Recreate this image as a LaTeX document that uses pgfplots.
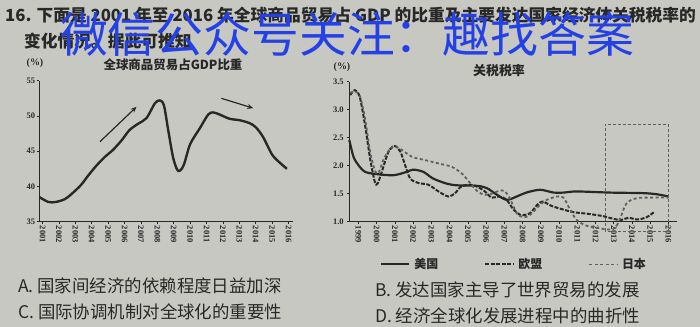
\documentclass[border=0pt]{standalone}
\usepackage{pgfplots}
\pgfplotsset{compat=1.18}
\usepackage{fontspec}
\setmainfont{Liberation Serif}
\newfontfamily\cjk{Noto Sans CJK SC}
\usetikzlibrary{arrows.meta}
\definecolor{bgc}{RGB}{200,200,195}
\definecolor{ink}{RGB}{40,40,40}
\definecolor{jp}{RGB}{95,95,95}
\definecolor{wm}{RGB}{35,65,230}
\begin{document}
\begin{tikzpicture}
\useasboundingbox (0,0) rectangle (700bp,-327bp);
\fill[bgc] (0,0) rectangle (700bp,-327bp);
% question text
\node[anchor=west, inner sep=0pt, text=ink, font={\cjk\bfseries\fontsize{16.8}{18}\selectfont}] at (5bp,-15bp) {16. 下面是 2001 年至 2016 年全球商品贸易占 GDP 的比重及主要发达国家经济体关税税率的};
\node[anchor=west, inner sep=0pt, text=ink, font={\cjk\bfseries\fontsize{16.8}{18}\selectfont}] at (24bp,-41bp) {变化情况。据此可推知};
% chart labels
\node[text=ink, font={\bfseries\fontsize{10}{12}\selectfont}] at (35bp,-63bp) {(\%)};
\node[text=ink, font={\cjk\bfseries\fontsize{12.5}{14}\selectfont}] at (173bp,-65bp) {全球商品贸易占GDP比重};
\node[text=ink, font={\bfseries\fontsize{10}{12}\selectfont}] at (342bp,-67bp) {(\%)};
\node[text=ink, font={\cjk\bfseries\fontsize{13}{14}\selectfont}] at (499bp,-71bp) {关税税率};

\begin{axis}[at={(39.3bp,-221.7bp)}, anchor=south west, scale only axis,
 width=253.7bp, height=141bp, xmin=2000.8, xmax=2016.27, ymin=35, ymax=55,
 axis lines=left, axis line style={-, draw=ink, line width=1.1pt},
 xtick={2001,2002,...,2016}, ytick={35,40,45,50,55},
 tick align=outside, major tick length=2.5bp, tick style={ink, line width=0.7pt},
 x tick label style={rotate=-90, anchor=west, /pgf/number format/1000 sep={}, inner sep=1.5bp},
 y tick label style={inner sep=1.5bp},
 tick label style={font=\fontsize{8.5}{9}\selectfont\bfseries, text=ink},
 /pgf/number format/assume math mode=true,
 clip=false]
\addplot[ink, line width=2.4pt, smooth, tension=0.5] coordinates {
(2000.8,38.5) (2001.35,37.8) (2001.8,37.8) (2002.36,38.2) (2002.8,39.0) (2003.34,40.2) (2003.8,41.6) (2004.3,43.0) (2004.8,44.2) (2005.3,45.2) (2005.84,46.6) (2006.3,48.0) (2006.83,48.9) (2007.34,49.7) (2007.85,51.8) (2008.15,52.2) (2008.4,51.5) (2008.66,48.0) (2008.97,44.0) (2009.27,42.2) (2009.6,43.0) (2010.0,46.0) (2010.6,48.3) (2011.1,50.2) (2011.4,50.5) (2011.8,50.2) (2012.4,49.6) (2013.0,49.4) (2013.6,49.0) (2014.0,48.4) (2014.45,47.0) (2015.0,44.5) (2015.5,43.3) (2015.9,42.5)};
\draw[ink, line width=1.2pt, -{Stealth[length=6bp,width=5bp]}] (axis cs:2004.5,46.35) -- (axis cs:2006.73,51.3);
\draw[ink, line width=1.2pt, -{Stealth[length=6bp,width=5bp]}] (axis cs:2011.9,52.5) -- (axis cs:2013.85,51.1);
\end{axis}

\begin{axis}[at={(349.3bp,-221.7bp)}, anchor=south west, scale only axis,
 width=327.4bp, height=140bp, xmin=1998.5, xmax=2016.45, ymin=1, ymax=3.5,
 axis lines=left, axis line style={-, draw=ink, line width=1.1pt},
 xtick={1999,2000,...,2016}, ytick={1,1.5,2,2.5,3,3.5},
 tick align=outside, major tick length=2.5bp, tick style={ink, line width=0.7pt},
 x tick label style={rotate=-90, anchor=west, /pgf/number format/1000 sep={}, inner sep=1.5bp},
 y tick label style={inner sep=3bp, /pgf/number format/.cd, fixed, fixed zerofill, precision=1},
 tick label style={font=\fontsize{8.5}{9}\selectfont\bfseries, text=ink},
 /pgf/number format/assume math mode=true,
 clip=false,
 legend columns=3,
 legend style={at={(0.094,-0.305)}, anchor=west, draw=none, fill=none, inner sep=0pt,
   font={\cjk\bfseries\fontsize{12}{14}\selectfont}, text=ink,
   /tikz/every odd column/.append style={column sep=2bp},
   /tikz/every even column/.append style={column sep=44bp}},
 legend image code/.code={\draw[#1] (0bp,0bp) -- (28bp,0bp);}]
\addplot[ink, line width=2.2pt, smooth, tension=0.5] coordinates {
(1998.5,2.46) (1998.73,2.16) (1999.0,2.01) (1999.37,1.89) (2000.0,1.85) (2000.92,1.83) (2001.65,1.89) (2002.0,1.93) (2002.56,1.89) (2003.1,1.77) (2003.84,1.68) (2004.4,1.65) (2005.5,1.64) (2006.04,1.60) (2006.6,1.48) (2007.13,1.39) (2007.68,1.45) (2008.2,1.52) (2008.96,1.57) (2009.7,1.52) (2010.24,1.52) (2010.97,1.54) (2012.8,1.52) (2014.6,1.51) (2015.36,1.49) (2016.0,1.45)};
\addlegendentry{美国}
\addplot[ink, line width=2pt, dash pattern=on 4bp off 1.5bp, smooth, tension=0.5] coordinates {
(1998.55,3.26) (1998.8,3.35) (1999.07,3.23) (1999.36,2.73) (1999.64,2.13) (1999.9,1.71) (2000.05,1.68) (2000.28,1.89) (2000.65,2.25) (2001.0,2.35) (2001.3,2.25) (2001.56,2.01) (2001.84,1.77) (2002.3,1.69) (2002.84,1.66) (2003.39,1.54) (2003.93,1.45) (2004.3,1.51) (2004.6,1.62) (2005.0,1.66) (2005.4,1.64) (2005.9,1.55) (2006.3,1.43) (2006.7,1.45) (2007.1,1.40) (2007.5,1.22) (2007.9,1.12) (2008.4,1.15) (2008.8,1.30) (2009.1,1.36) (2009.6,1.28) (2010.2,1.22) (2010.8,1.17) (2011.6,1.14) (2012.4,1.10) (2013.0,1.05) (2013.4,1.03) (2013.8,1.07) (2014.3,1.04) (2014.8,1.08) (2015.2,1.17)};
\addlegendentry{欧盟}
\addplot[jp, line width=1.8pt, dash pattern=on 3bp off 2.5bp, smooth, tension=0.5] coordinates {
(1998.55,3.30) (1998.8,3.32) (1999.07,3.25) (1999.36,2.85) (1999.64,2.25) (1999.9,1.92) (2000.1,1.87) (2000.4,2.13) (2000.85,2.34) (2001.3,2.30) (2001.93,2.16) (2002.66,2.10) (2003.39,2.04) (2004.12,1.98) (2004.67,1.86) (2005.1,1.70) (2005.5,1.55) (2005.9,1.48) (2006.3,1.50) (2006.7,1.55) (2007.0,1.55) (2007.3,1.42) (2007.68,1.15) (2008.05,1.08) (2008.4,1.12) (2008.96,1.30) (2009.33,1.39) (2009.88,1.45) (2010.24,1.43) (2010.6,1.22) (2010.97,1.03) (2011.5,0.93) (2012.25,0.88) (2012.8,0.86) (2013.1,0.90) (2013.35,1.06) (2013.7,1.33) (2014.26,1.42) (2015.0,1.43) (2016.0,1.43)};
\addlegendentry{日本}
\draw[jp, line width=1.4pt, dash pattern=on 3bp off 2bp] (axis cs:2012.53,0.83) rectangle (axis cs:2016.0,2.74);
\end{axis}

% options
\node[anchor=west, inner sep=0pt, text=ink, font={\cjk\fontsize{17.5}{19}\selectfont}] at (18bp,-286bp) {A. 国家间经济的依赖程度日益加深};
\node[anchor=west, inner sep=0pt, text=ink, font={\cjk\fontsize{17.5}{19}\selectfont}] at (375bp,-290bp) {B. 发达国家主导了世界贸易的发展};
\node[anchor=west, inner sep=0pt, text=ink, font={\cjk\fontsize{17.5}{19}\selectfont}] at (18bp,-312bp) {C. 国际协调机制对全球化的重要性};
\node[anchor=west, inner sep=0pt, text=ink, font={\cjk\fontsize{17.5}{19}\selectfont}] at (375bp,-316bp) {D. 经济全球化发展进程中的曲折性};
% watermark
\node[text=wm, font={\cjk\fontsize{48}{50}\selectfont}] at (347bp,-34bp) {微信公众号关注：趣找答案};
\end{tikzpicture}
\end{document}
